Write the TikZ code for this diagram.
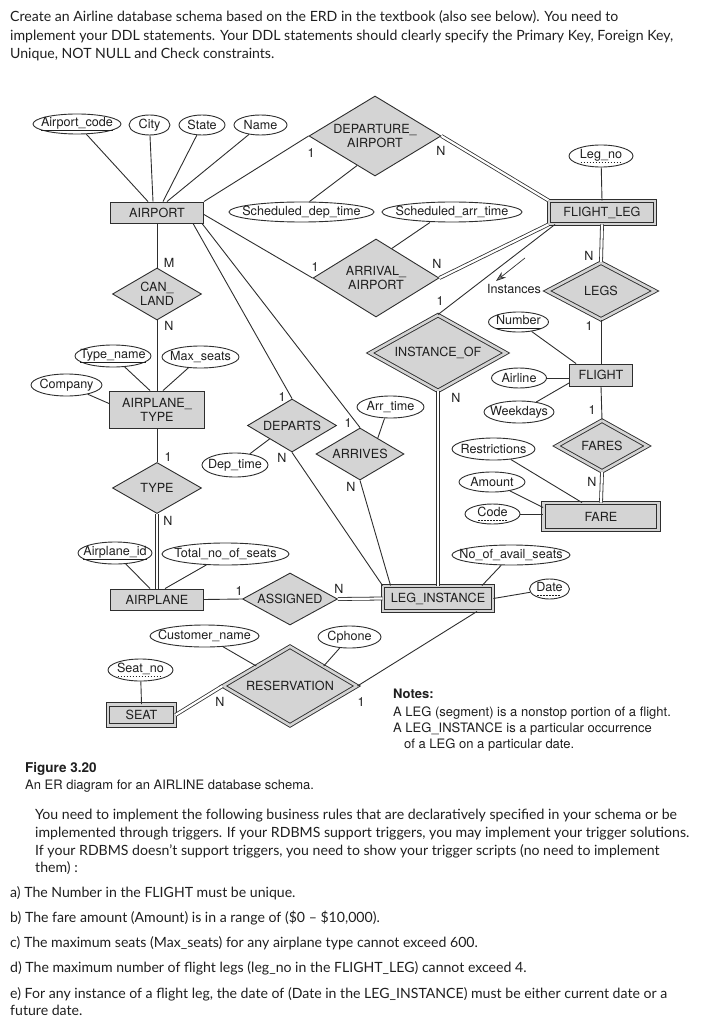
\documentclass[tikz,border=0pt]{standalone}
\usepackage{fontspec}
\setmainfont{TeX Gyre Heros}
\newfontfamily\uifont{Lato}
\usetikzlibrary{shapes.geometric,arrows.meta,calc}
\definecolor{lc}{gray}{0.18}
\definecolor{gfill}{gray}{0.83}
\definecolor{tc}{gray}{0.12}
\newsavebox\ulbox
\newcommand{\sul}[1]{\sbox\ulbox{#1}\rlap{\rule[-3.6pt]{\wd\ulbox}{0.6pt}}\usebox\ulbox}
\newcommand{\dul}[1]{\sbox\ulbox{#1}\rlap{\hbox to \wd\ulbox{\leaders\hbox to 3pt{\hss\rule[-3.6pt]{1.8pt}{0.6pt}\hss}\hfill}}\usebox\ulbox}
\newcommand{\dfont}{\fontsize{12.6}{14}\selectfont}
\newcommand{\nfont}{\fontsize{13}{15}\selectfont}
\newcommand{\qfont}{\uifont\fontsize{14.1}{17}\selectfont}
\tikzset{
  every node/.style={text=tc},
  ent/.style={rectangle, draw=lc, line width=0.9pt, fill=gfill, inner sep=0},
  went/.style={ent, double=gfill, double distance=2.6pt},
  rel/.style={diamond, draw=lc, line width=0.9pt, fill=gfill, inner sep=0},
  wrel/.style={rel, double=gfill, double distance=2.6pt},
  att/.style={ellipse, draw=lc, line width=0.9pt, fill=white, inner sep=0},
  lbl/.style={label={[font=\dfont, align=center, text=tc]center:#1}},
  lnk/.style={draw=lc, line width=0.9pt},
  dlnk/.style={draw=lc, line width=0.8pt, double=white, double distance=2.2pt},
  card/.style={inner sep=0, font=\dfont},
  qtext/.style={anchor=base west, inner sep=0, font=\qfont},
  ntext/.style={anchor=base west, inner sep=0, font=\nfont},
}
\begin{document}
\begin{tikzpicture}[x=1pt,y=-1pt]
\useasboundingbox (0,0) rectangle (707,1024);
% ---------- question text ----------
\node[qtext] (t1) at (10,22) {Create an Airline database schema based on the ERD in the textbook (also see below). You need to};
\node[qtext] (t2) at (10,41) {implement your DDL statements. Your DDL statements should clearly specify the Primary Key, Foreign Key,};
\node[qtext] (t3) at (10,59) {Unique, NOT NULL and Check constraints.};
% ---------- entities ----------
\node[ent, minimum width=93, minimum height=21, lbl=AIRPORT] (ap) at (157,212.5) {};
\node[went, minimum width=106, minimum height=23, lbl=FLIGHT\_LEG] (fl) at (602,212.5) {};
\node[ent, minimum width=63, minimum height=22, lbl=FLIGHT] (flight) at (601,375) {};
\node[went, minimum width=115, minimum height=27, lbl=FARE] (fare) at (601,516.5) {};
\node[went, minimum width=110, minimum height=25, lbl=LEG\_INSTANCE] (li) at (438,598.5) {};
\node[ent, minimum width=95, minimum height=37, lbl={AIRPLANE\_\\TYPE}] (apt) at (157,409.5) {};
\node[ent, minimum width=93, minimum height=21, lbl=AIRPLANE] (apl) at (157,599.5) {};
\node[went, minimum width=67, minimum height=21, lbl=SEAT] (seat) at (141.5,715) {};
% ---------- relationships ----------
\node[rel, minimum width=132, minimum height=80, lbl={DEPARTURE\_\\AIRPORT}] (dep) at (375,136) {};
\node[rel, minimum width=126, minimum height=78, lbl={ARRIVAL\_\\AIRPORT}] (arr) at (376,278) {};
\node[wrel, minimum width=136, minimum height=76, lbl=INSTANCE\_OF] (io) at (438,353) {};
\node[wrel, minimum width=108, minimum height=57, lbl=LEGS] (legs) at (601,291) {};
\node[wrel, minimum width=91, minimum height=51, lbl=FARES] (fares) at (602,446) {};
\node[rel, minimum width=89, minimum height=52, lbl={CAN\_\\LAND}] (canl) at (157,294) {};
\node[rel, minimum width=89, minimum height=51, lbl=TYPE] (typ) at (157,488) {};
\node[rel, minimum width=89, minimum height=53, lbl=DEPARTS] (departs) at (292,425.5) {};
\node[rel, minimum width=88, minimum height=52, lbl=ARRIVES] (arrv) at (360,454) {};
\node[rel, minimum width=95, minimum height=52, lbl=ASSIGNED] (asg) at (290,599) {};
\node[wrel, minimum width=134, minimum height=79, lbl=RESERVATION] (res) at (290,686) {};
% ---------- attributes ----------
\node[att, minimum width=88, minimum height=20, lbl=\sul{Airport\_code}] (apc) at (77,124) {};
\node[att, minimum width=41, minimum height=20, lbl=City] (city) at (149.5,125) {};
\node[att, minimum width=46, minimum height=20, lbl=State] (state) at (202,125) {};
\node[att, minimum width=53, minimum height=20, lbl=Name] (name) at (260.5,125) {};
\node[att, minimum width=145, minimum height=20, lbl=Scheduled\_dep\_time] (sdt) at (301.5,212) {};
\node[att, minimum width=140, minimum height=20, lbl=Scheduled\_arr\_time] (sat) at (452,212) {};
\node[att, minimum width=64, minimum height=22, lbl=\dul{Leg\_no}] (legno) at (601,156) {};
\node[att, minimum width=60, minimum height=20, lbl=\sul{Number}] (num) at (518.5,322) {};
\node[att, minimum width=55, minimum height=20, lbl=Airline] (airline) at (519,378) {};
\node[att, minimum width=70, minimum height=22, lbl=Weekdays] (wk) at (519,412) {};
\node[att, minimum width=83, minimum height=22, lbl=Restrictions] (restr) at (493.5,449) {};
\node[att, minimum width=66, minimum height=20, lbl=Amount] (amt) at (492,482) {};
\node[att, minimum width=55, minimum height=20, lbl=\dul{Code}] (code) at (492.5,514) {};
\node[att, minimum width=118, minimum height=20, lbl=No\_of\_avail\_seats] (noas) at (511,555) {};
\node[att, minimum width=40, minimum height=20, lbl=\dul{Date}] (date) at (549.5,589) {};
\node[att, minimum width=67, minimum height=22, lbl=Arr\_time] (arrt) at (390.5,407) {};
\node[att, minimum width=66, minimum height=24, lbl=Dep\_time] (dept) at (235,465) {};
\node[att, minimum width=76, minimum height=22, lbl=\sul{Type\_name}] (tn) at (113,356) {};
\node[att, minimum width=77, minimum height=22, lbl=Max\_seats] (ms) at (200.5,357) {};
\node[att, minimum width=71, minimum height=22, lbl=Company] (comp) at (66.5,385) {};
\node[att, minimum width=74, minimum height=22, lbl=\sul{Airplane\_id}] (aid) at (115,553) {};
\node[att, minimum width=127, minimum height=22, lbl=Total\_no\_of\_seats] (tns) at (225.5,554) {};
\node[att, minimum width=109, minimum height=22, lbl=Customer\_name] (cn) at (204.5,636) {};
\node[att, minimum width=63, minimum height=22, lbl=Cphone] (cph) at (349.5,637) {};
\node[att, minimum width=65, minimum height=22, lbl=\dul{Seat\_no}] (seatno) at (140.5,670) {};
% ---------- connectors ----------
\draw[lnk] (apc) -- ([xshift=-9pt]ap.north);
\draw[lnk] (city) -- ([xshift=-4pt]ap.north);
\draw[lnk] (state) -- ([xshift=6pt]ap.north);
\draw[lnk] (name) -- ([xshift=10pt]ap.north);
\draw[lnk] (ap.north east) -- (dep.west);
\draw[lnk] ([yshift=-2pt]ap.east) -- (arr.west);
\draw[lnk] (ap.south) -- (canl.north);
\draw[lnk] ([xshift=36pt]ap.south) -- (departs.north);
\draw[lnk] ([xshift=45pt]ap.south) -- (arrv.north);
\draw[lnk] ($(dep.west)!0.73!(dep.south)$) -- ([xshift=8pt]sdt.north);
\draw[dlnk] (dep.east) -- (fl.north west);
\draw[lnk] ($(arr.north)!0.25!(arr.east)$) -- ([xshift=-22pt]sat.south);
\draw[dlnk] (arr.east) -- (fl.south west);
\draw[lnk] (io.north) -- ([xshift=-47pt]fl.south);
\draw[dlnk] (fl.south) -- (legs.north);
\draw[lnk] (legno) -- (fl.north);
\draw[lnk] (legs.south) -- (flight.north);
\draw[lnk] (num) -- ([xshift=7pt]flight.north west);
\draw[lnk] (airline.east) -- (airline.east -| flight.west);
\draw[lnk] (wk) -- ([yshift=-8pt]flight.west);
\draw[lnk] (flight.south) -- (fares.north);
\draw[dlnk] (fares.south) -- (fare.north);
\draw[lnk] (restr) -- ([xshift=-19pt]fare.north);
\draw[lnk] (amt) -- ([yshift=9pt]fare.west);
\draw[lnk] (code.east) -- (code.east -| fare.west);
\draw[dlnk] (io.south) -- (li.north);
\draw[lnk] (noas) -- ([xshift=44pt]li.north);
\draw[lnk] (date) -- (li.east);
\draw[lnk] ([xshift=39pt]li.south) -- (res.east);
\draw[lnk] (departs.south) -- (li.north west);
\draw[lnk] (arrv.south) -- ([xshift=8pt]li.north west);
\draw[lnk] ($(arrv.north)!0.4!(arrv.east)$) -- ([xshift=-6pt]arrt.south);
\draw[lnk] (dept) -- (departs.south west);
\draw[dlnk] (asg.east) -- (li.west);
\draw[lnk] (apl.east) -- (asg.west);
\draw[lnk] (canl.south) -- (apt.north);
\draw[lnk] (apt.south) -- (typ.north);
\draw[dlnk] (typ.south) -- (apl.north);
\draw[lnk] (tn) -- ([xshift=-7pt]apt.north);
\draw[lnk] (ms) -- ([xshift=6pt]apt.north);
\draw[lnk] (comp) -- ([yshift=6pt]apt.west);
\draw[lnk] (aid) -- ([xshift=-7pt]apl.north);
\draw[lnk] (tns) -- ([xshift=8pt]apl.north);
\draw[lnk] (cn) -- (res.north west);
\draw[lnk] (cph) -- (res.north east);
\draw[dlnk] (res.west) -- (seat.east);
\draw[lnk] (seatno) -- (seat.north);
% Instances arrow
\coordinate (ins1) at (525,258);
\coordinate (ins2) at (496,281);
\draw[lnk, line width=0.7pt, -{Stealth[length=10pt,width=7pt,fill=gray]}] (ins1) -- (ins2);
\node[card] (insl) at (514,289) {Instances};
% ---------- cardinalities ----------
\node[card] (c1) at (311,153) {1};
\node[card] (c2) at (441,151) {N};
\node[card] (c3) at (315,267) {1};
\node[card] (c4) at (437,264) {N};
\node[card] (c5) at (440,301) {1};
\node[card] (c6) at (456,398) {N};
\node[card] (c7) at (589,256) {N};
\node[card] (c8) at (589,326) {1};
\node[card] (c9) at (592,410) {1};
\node[card] (c10) at (592,482) {N};
\node[card] (c11) at (169,263) {M};
\node[card] (c12) at (169,326) {N};
\node[card] (c13) at (168,457) {1};
\node[card] (c14) at (168,521) {N};
\node[card] (c15) at (282,397) {1};
\node[card] (c16) at (282,458) {N};
\node[card] (c17) at (348,423) {1};
\node[card] (c18) at (351,487) {N};
\node[card] (c19) at (239,591) {1};
\node[card] (c20) at (339,589) {N};
\node[card] (c21) at (220,702) {N};
\node[card] (c22) at (361,702) {1};
% ---------- notes ----------
\node[ntext, font=\nfont\bfseries] (n0) at (393,698) {Notes:};
\node[ntext] (n1) at (393,716) {A LEG (segment) is a nonstop portion of a flight.};
\node[ntext] (n2) at (393,732) {A LEG\_INSTANCE is a particular occurrence};
\node[ntext] (n3) at (404,748) {of a LEG on a particular date.};
\node[ntext, font=\fontsize{13.5}{15}\selectfont\bfseries] (fig) at (25,772) {Figure 3.20};
\node[ntext, font=\fontsize{13}{15}\selectfont] (cap) at (25,789) {An ER diagram for an AIRLINE database schema.};
% ---------- lower text ----------
\node[qtext] (p1) at (35,819) {You need to implement the following business rules that are declaratively specified in your schema or be};
\node[qtext] (p2) at (35,837) {implemented through triggers. If your RDBMS support triggers, you may implement your trigger solutions.};
\node[qtext] (p3) at (35,855) {If your RDBMS doesn’t support triggers, you need to show your trigger scripts (no need to implement};
\node[qtext] (p4) at (35,872) {them) :};
\node[qtext] (ra) at (10,897) {a) The Number in the FLIGHT must be unique.};
\node[qtext] (rb) at (10,922) {b) The fare amount (Amount) is in a range of (\$0 – \$10,000).};
\node[qtext] (rc) at (10,947) {c) The maximum seats (Max\_seats) for any airplane type cannot exceed 600.};
\node[qtext] (rd) at (10,972) {d) The maximum number of flight legs (leg\_no in the FLIGHT\_LEG) cannot exceed 4.};
\node[qtext] (re) at (10,998) {e) For any instance of a flight leg, the date of (Date in the LEG\_INSTANCE) must be either current date or a};
\node[qtext] (rf) at (10,1015) {future date.};
\end{tikzpicture}
\end{document}
